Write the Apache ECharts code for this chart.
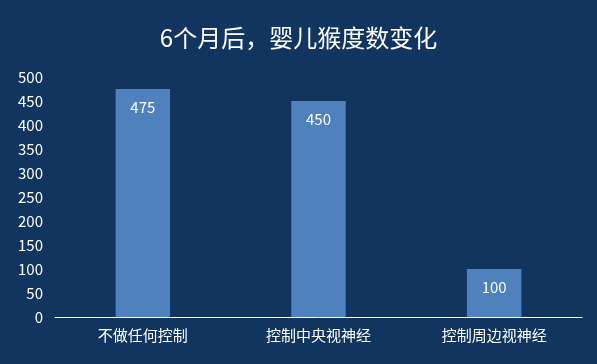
<!DOCTYPE html>
<html><head><meta charset="utf-8">
<script src="https://cdn.jsdelivr.net/npm/echarts@6/dist/echarts.min.js"></script>
<style>html,body{margin:0;padding:0;background:#12355f;}#c{width:597px;height:364px;}</style>
</head><body><div id="c"></div>
<script>
const titleText = '6个月后，婴儿猴度数变化';
const categories = ['不做任何控制', '控制中央视神经', '控制周边视神经'];
const values = [475, 450, 100];
const chart = echarts.init(document.getElementById('c'));
const font = "'Noto Sans CJK SC', sans-serif";
chart.setOption({
  backgroundColor: '#12355f',
  animation: false,
  title: { text: titleText, left: 'center', top: 21, textStyle: { color: '#ffffff', fontSize: 24, fontWeight: 'normal', fontFamily: font } },
  grid: { left: 55, right: 15, top: 77, bottom: 47 },
  xAxis: { type: 'category', data: categories,
    axisLine: { lineStyle: { color: '#ffffff', width: 1 } }, axisTick: { show: false },
    axisLabel: { color: '#ffffff', fontSize: 15, fontFamily: font, margin: 11 } },
  yAxis: { type: 'value', min: 0, max: 500, interval: 50,
    splitLine: { show: false }, axisLine: { show: false }, axisTick: { show: false },
    axisLabel: { color: '#ffffff', fontSize: 15, fontFamily: font, margin: 12 } },
  series: [{ type: 'bar', data: values, barWidth: '31%', itemStyle: { color: '#4f81bd' },
    label: { show: true, position: 'insideTop', distance: 11, color: '#ffffff', fontSize: 15, fontFamily: font } }]
});
</script></body></html>
